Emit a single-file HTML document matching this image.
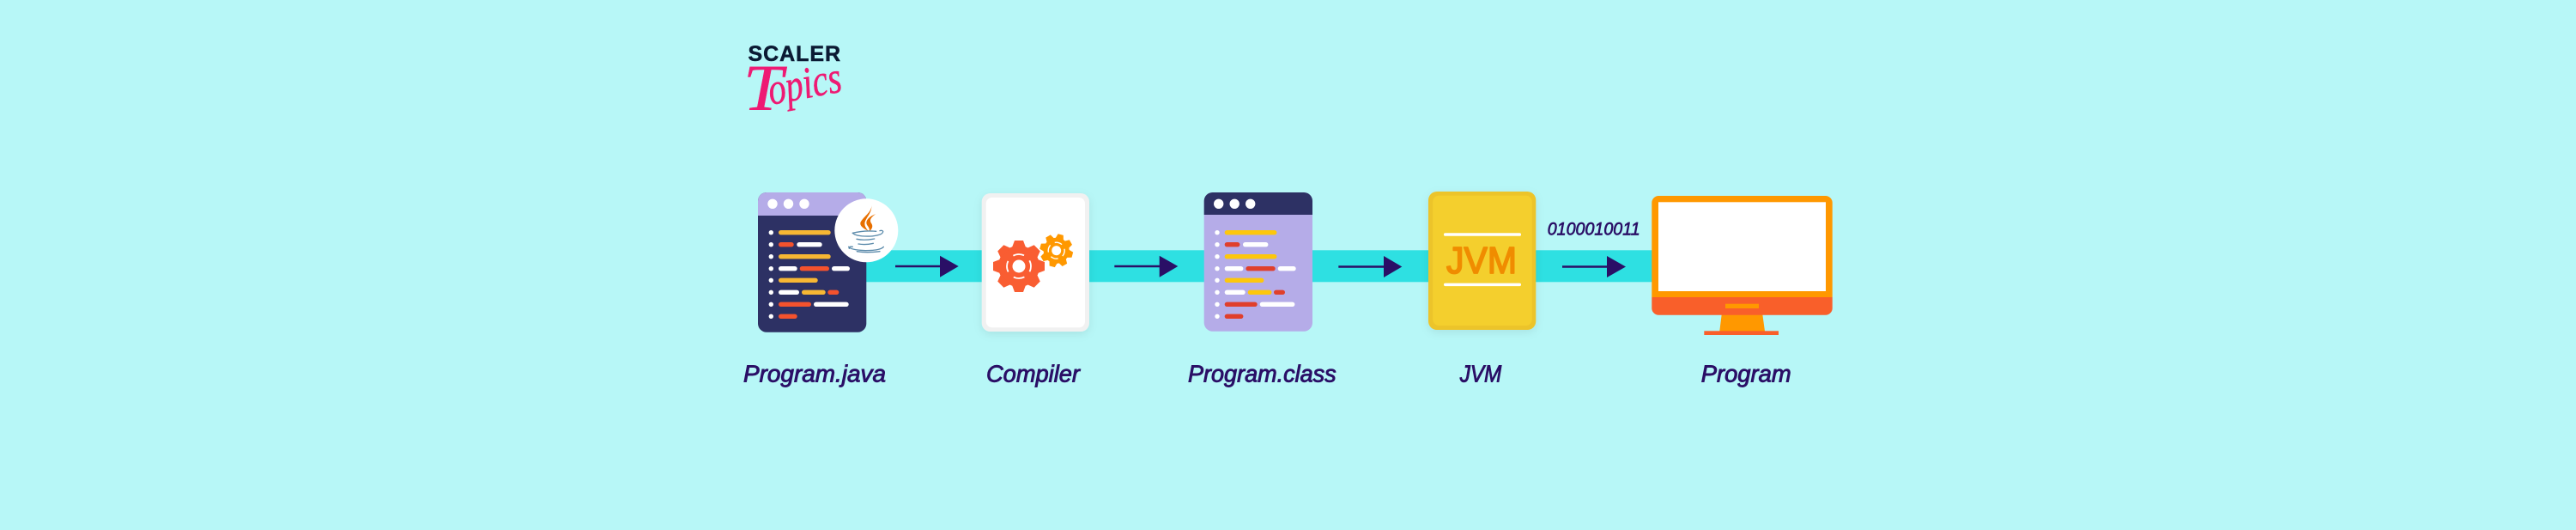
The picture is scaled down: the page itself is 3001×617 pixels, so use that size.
<!DOCTYPE html>
<html>
<head>
<meta charset="utf-8">
<style>
html,body{margin:0;padding:0;background:#b7f7f7;width:3001px;height:617px;overflow:hidden}
svg{display:block}
.l{font-family:"Liberation Sans",sans-serif;font-style:italic;font-weight:400;font-size:27.5px;fill:#2a0f66;stroke:#2a0f66;stroke-width:.9px}
</style>
</head>
<body>
<svg xmlns="http://www.w3.org/2000/svg" width="3001" height="617" viewBox="0 0 3001 617">
<defs>
<filter id="sh" x="-20%" y="-20%" width="140%" height="140%"><feDropShadow dx="0" dy="3" stdDeviation="5" flood-color="#000" flood-opacity=".08"/></filter>
<g id="rows">
<g fill="#fff">
<circle cx="898.3" cy="270.7" r="2.7"/><circle cx="898.3" cy="284.7" r="2.7"/><circle cx="898.3" cy="298.7" r="2.7"/><circle cx="898.3" cy="312.7" r="2.7"/><circle cx="898.3" cy="326.3" r="2.7"/><circle cx="898.3" cy="340.3" r="2.7"/><circle cx="898.3" cy="354.3" r="2.7"/><circle cx="898.3" cy="368.3" r="2.7"/>
<rect x="928.3" y="282" width="29.4" height="5.4" rx="2.7"/>
<rect x="907" y="310" width="21.7" height="5.4" rx="2.7"/>
<rect x="969" y="310" width="21" height="5.4" rx="2.7"/>
<rect x="907" y="337.6" width="24" height="5.4" rx="2.7"/>
<rect x="948" y="351.6" width="40.7" height="5.4" rx="2.7"/>
</g>
<g fill="var(--y)">
<rect x="907" y="268" width="60.7" height="5.4" rx="2.7"/>
<rect x="907" y="296" width="60.7" height="5.4" rx="2.7"/>
<rect x="907" y="323.6" width="45.7" height="5.4" rx="2.7"/>
<rect x="934" y="337.6" width="27.7" height="5.4" rx="2.7"/>
</g>
<g fill="var(--r)">
<rect x="907" y="282" width="17.7" height="5.4" rx="2.7"/>
<rect x="931.7" y="310" width="34.3" height="5.4" rx="2.7"/>
<rect x="964.3" y="337.6" width="13" height="5.4" rx="2.7"/>
<rect x="907" y="351.6" width="38" height="5.4" rx="2.7"/>
<rect x="907" y="365.6" width="21.7" height="5.4" rx="2.7"/>
</g>
</g>
<g id="dots" fill="#fff"><circle cx="900" cy="237.3" r="5.7"/><circle cx="918.5" cy="237.3" r="5.7"/><circle cx="937" cy="237.3" r="5.7"/></g>
<polygon id="tb" points="-8,-22 -5,-30 5,-30 8,-22"/>
<polygon id="ts" points="-5,-13 -3.200,-19.300 3.200,-19.300 5,-13"/>
</defs>

<rect width="3001" height="617" fill="#b7f7f7"/>

<!-- connector band -->
<rect x="1005" y="291.3" width="925" height="37" fill="#2ee0e2"/>

<!-- logo -->
<text x="871.500" y="71" font-family="'Liberation Sans',sans-serif" font-weight="700" font-size="25" fill="#0b1a33" stroke="#0b1a33" stroke-width=".5" textLength="107.500" lengthAdjust="spacing">SCALER</text>
<text x="866" y="128" font-family="'Liberation Serif',serif" font-style="italic" font-size="76" fill="#ee1a73" stroke="#ee1a73" stroke-width=".4" textLength="46" lengthAdjust="spacingAndGlyphs">T</text>
<text transform="translate(898 122) rotate(-10.600)" font-family="'Liberation Serif',serif" font-style="italic" font-size="52" fill="#ee1a73" stroke="#ee1a73" stroke-width=".5" textLength="86" lengthAdjust="spacingAndGlyphs">opics</text>

<!-- Program.java window -->
<rect x="883" y="224" width="126.300" height="162.700" rx="10" fill="#2d3164"/>
<path d="M883 251V234a10 10 0 0 1 10-10h106.300a10 10 0 0 1 10 10V251Z" fill="#b5ace8"/>
<use href="#dots"/>
<use href="#rows" style="--y:#f7b733;--r:#f4522d"/>
<circle cx="1009.300" cy="268.300" r="37" fill="#fff"/>
<g transform="translate(860 210) scale(.33333)">
<path d="M466 85C468 110 440 125 428 145C422 160 440 168 456 178C445 165 438 155 445 140C452 125 468 110 466 85Z" fill="#e76f00"/>
<path d="M481 117C462 125 448 135 448 148C448 158 462 165 458 178C470 168 472 158 464 148C458 138 465 128 481 117Z" fill="#e76f00"/>
<g fill="none" stroke="#5c8bab" stroke-width="4" stroke-linecap="round">
<path d="M400 184Q440 174 482 178"/>
<path d="M400 184Q412 197 465 195Q507 191 506 178Q503 173 495 176"/>
<path d="M414 205Q440 211 476 204"/>
<path d="M420 222Q445 226 472 220"/>
<path d="M386 232Q392 243 445 245Q497 245 508 232"/>
<path d="M400 232Q385 230 388 238"/>
<path d="M415 248Q450 254 495 248"/>
</g>
</g>

<!-- Arrow 1 -->
<path d="M1043 310H1096" stroke="#2a0f66" stroke-width="2.500"/><path d="M1095 297.700L1116.700 310L1095 322.700Z" fill="#2a0f66"/>

<!-- Compiler -->
<rect x="1143.700" y="225" width="125.300" height="161" rx="10" fill="#f1f1f1" filter="url(#sh)"/>
<rect x="1148.700" y="230" width="115.300" height="151.300" rx="7" fill="#fff"/>
<g transform="translate(1187 310)" fill="#f95d32">
<circle r="24"/>
<use href="#tb"/><use href="#tb" transform="rotate(45)"/><use href="#tb" transform="rotate(90)"/><use href="#tb" transform="rotate(135)"/><use href="#tb" transform="rotate(180)"/><use href="#tb" transform="rotate(225)"/><use href="#tb" transform="rotate(270)"/><use href="#tb" transform="rotate(315)"/>
<circle r="7.500" fill="#fff"/>
<circle r="14" fill="none" stroke="#fff" stroke-width="1.800" pathLength="80" stroke-dasharray="12 8" stroke-dashoffset="6"/>
</g>
<g transform="translate(1230.700 291.700) rotate(15)" fill="#ff9800">
<circle r="15"/>
<use href="#ts"/><use href="#ts" transform="rotate(45)"/><use href="#ts" transform="rotate(90)"/><use href="#ts" transform="rotate(135)"/><use href="#ts" transform="rotate(180)"/><use href="#ts" transform="rotate(225)"/><use href="#ts" transform="rotate(270)"/><use href="#ts" transform="rotate(315)"/>
<circle r="5.500" fill="#fff"/>
<circle r="9.500" fill="none" stroke="#fff" stroke-width="1.400" pathLength="80" stroke-dasharray="12 8" stroke-dashoffset="6"/>
</g>

<!-- Arrow 2 -->
<path d="M1298.300 310H1352" stroke="#2a0f66" stroke-width="2.500"/><path d="M1350.700 297.700L1372.300 310L1350.700 322.700Z" fill="#2a0f66"/>

<!-- Program.class window -->
<rect x="1402.700" y="224" width="126.300" height="161.700" rx="10" fill="#b5ace8"/>
<path d="M1402.700 250V234a10 10 0 0 1 10-10h106.300a10 10 0 0 1 10 10V250Z" fill="#2d3164"/>
<g transform="translate(519.700 0)">
<use href="#dots"/>
<use href="#rows" style="--y:#fdc70c;--r:#e03f2b"/>
</g>

<!-- Arrow 3 -->
<path d="M1559.300 310.500H1613" stroke="#2a0f66" stroke-width="2.500"/><path d="M1612 298L1633.300 310.500L1612 323Z" fill="#2a0f66"/>

<!-- JVM -->
<rect x="1664" y="223" width="125.300" height="161" rx="10" fill="#ecc42a" filter="url(#sh)"/>
<rect x="1669.300" y="227.700" width="115.400" height="151.300" rx="7" fill="#f4cf2d"/>
<rect x="1682" y="271.300" width="90" height="3.500" rx="1.700" fill="#fff"/>
<rect x="1682" y="329.600" width="90" height="3.500" rx="1.700" fill="#fff"/>
<text x="1685" y="318" font-family="'Liberation Sans',sans-serif" font-size="44" fill="#f08c00" stroke="#f08c00" stroke-width="1.800" stroke-linejoin="round" textLength="82" lengthAdjust="spacingAndGlyphs">JVM</text>

<!-- Arrow 4 -->
<path d="M1820 310.500H1873" stroke="#2a0f66" stroke-width="2.500"/><path d="M1872 298L1894 310.500L1872 323Z" fill="#2a0f66"/>
<text x="1802.700" y="273.300" font-family="'Liberation Sans',sans-serif" font-style="italic" font-size="21" fill="#2a0f66" stroke="#2a0f66" stroke-width=".7" textLength="108" lengthAdjust="spacingAndGlyphs">0100010011</text>

<!-- Monitor -->
<path d="M2005.700 366L2053.300 366L2056 385.500H2003.300Z" fill="#ff9800"/>
<rect x="1985.300" y="385.300" width="86.700" height="4.700" fill="#f95f2a"/>
<path d="M1924.300 346V236a8 8 0 0 1 8-8H2126.700a8 8 0 0 1 8 8V346Z" fill="#ff9800"/>
<path d="M1924.300 346H2134.700V358.700a8 8 0 0 1-8 8H1932.300a8 8 0 0 1-8-8Z" fill="#f95f2a"/>
<rect x="1932" y="235.300" width="195" height="103.700" fill="#fff"/>
<rect x="2010" y="353.700" width="39" height="5.300" fill="#ff9800"/>

<!-- labels -->
<text class="l" x="866" y="444.300" textLength="166" lengthAdjust="spacingAndGlyphs">Program.java</text>
<text class="l" x="1149" y="444.300" textLength="109" lengthAdjust="spacingAndGlyphs">Compiler</text>
<text class="l" x="1384" y="444.300" textLength="172.700" lengthAdjust="spacingAndGlyphs">Program.class</text>
<text class="l" x="1700.700" y="444.300" textLength="48.600" lengthAdjust="spacingAndGlyphs">JVM</text>
<text class="l" x="1981.700" y="444.300" textLength="105" lengthAdjust="spacingAndGlyphs">Program</text>
</svg>
</body>
</html>
